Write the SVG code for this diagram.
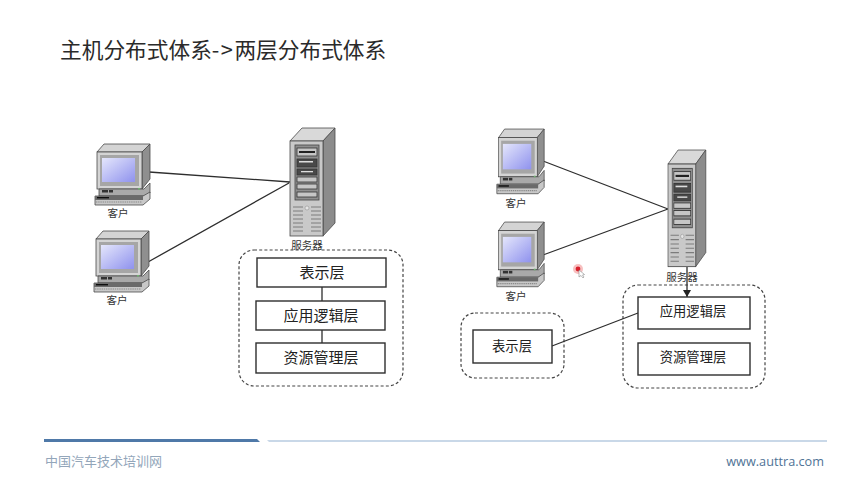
<svg xmlns="http://www.w3.org/2000/svg" xmlns:xlink="http://www.w3.org/1999/xlink" width="864" height="486" viewBox="0 0 864 486">
<style>
text{font-family:"Noto Sans CJK SC","Liberation Sans",sans-serif;fill:#222;text-anchor:middle}
.title{font-size:21.7px;text-anchor:start;fill:#2a2a2a}
.cap{font-size:10.5px;fill:#333}
.l1{font-size:15px}.l2{font-size:13.3px}
.box{fill:#fff;stroke:#2e2e2e;stroke-width:1.4}
.dash{fill:#fff;stroke:#444;stroke-width:1.2;stroke-dasharray:3 2.2}
.conn{fill:none;stroke:#2e2e2e;stroke-width:1.3}
.ol{stroke:#4a4a4a;stroke-width:.8}
.vent{stroke:#7c7c7c;stroke-width:1;fill:none}
.bay{fill:#c6c6c6;stroke:#333;stroke-width:.8}
.bayd{fill:#4a4a4a;stroke:#333;stroke-width:.8}
</style>
<defs>
<filter id="soft" x="-5%" y="-5%" width="110%" height="110%"><feGaussianBlur stdDeviation="0.4"/></filter>
<linearGradient id="scr" x1="0" y1="0" x2="1" y2="1"><stop offset="0" stop-color="#e4e6fb"/><stop offset="1" stop-color="#8f92ee"/></linearGradient>
<marker id="arr" markerUnits="userSpaceOnUse" markerWidth="8" markerHeight="8" refX="7" refY="4" orient="auto"><path d="M0 0L7 4L0 8Z" fill="#222"/></marker>
<g id="pc" filter="url(#soft)">
<path class="ol" d="M3 9L10 1H56L48 9Z" fill="#d4d4d4"/>
<path class="ol" d="M48 9L56 1V36L48 46Z" fill="#8f8f8f"/>
<rect class="ol" x="3" y="9" width="45" height="37" fill="#d4d4d4"/>
<rect x="6" y="12" width="39" height="31" fill="#a6a6a6"/>
<rect x="8" y="15" width="33" height="24" fill="url(#scr)"/>
<path class="ol" d="M5 46H50L56 40V50L50 53H5Z" fill="#a9a9a9"/>
<rect x="8" y="47" width="6" height="2.5" fill="#333"/><rect x="15" y="47" width="4" height="2.5" fill="#333"/>
<rect x="44" y="45" width="2" height="1.5" fill="#6fb26f"/>
<path class="ol" d="M1 53H49L56 49V56L49 62H1Z" fill="#c8c8c8"/>
<rect x="1" y="53" width="48" height="4" fill="#6a6a6a"/>
<rect x="3" y="54" width="12" height="1.4" fill="#111"/>
<path d="M2 59H48" stroke="#8a8a8a" stroke-width="1.2" stroke-dasharray="1.4 .8"/>
</g>
<g id="srv" filter="url(#soft)">
<path class="ol" d="M0 13L12 0H45L33 13Z" fill="#d9d9d9"/>
<path class="ol" d="M33 13L45 0V95L33 108Z" fill="#8c8c8c"/>
<rect class="ol" x="0" y="13" width="33" height="95" fill="#c9c9c9"/>
<rect x="5" y="17" width="24" height="55" fill="#8f8f8f" stroke="#444" stroke-width=".8"/>
<rect class="bay" x="7" y="20" width="20" height="8"/><rect x="9" y="23" width="16" height="2" fill="#222"/>
<rect class="bayd" x="7" y="31" width="20" height="8"/><rect x="9" y="33" width="14" height="1.5" fill="#ddd"/>
<rect class="bayd" x="7" y="41" width="20" height="6"/><rect x="11" y="43" width="12" height="1.3" fill="#ddd"/>
<rect class="bay" x="7" y="49" width="20" height="5"/>
<rect class="bay" x="7" y="56" width="20" height="5"/>
<rect class="bay" x="7" y="64" width="20" height="5"/>
<path class="vent" d="M3 79H13M3 83H13M3 87H13M3 91H13M3 95H13M3 99H13M3 103H13M21 79H31M21 83H31M21 87H31M21 91H31M21 95H31M21 99H31M21 103H31"/>
<circle cx="17" cy="80" r="2" fill="#e4e4e4" stroke="#888" stroke-width=".5"/>
</g>
</defs>
<rect width="864" height="486" fill="#fff"/>
<text class="title" x="60" y="58">主机分布式体系<tspan letter-spacing="1.5">-&gt;</tspan>两层分布式体系</text>

<g id="zone-left"><rect class="dash" x="239" y="250" width="164" height="136" rx="15"/></g>
<g id="zone-right-client"><rect class="dash" x="461" y="313" width="103" height="65" rx="14"/></g>
<g id="zone-right-server"><rect class="dash" x="623" y="285" width="142" height="103" rx="15"/></g>

<g id="connectors">
<path class="conn" d="M149 172L290 182M148 262L289 183M322 287V301M322 330V343"/>
<path class="conn" d="M543 161L668 209M543 255L668 209M552 346L638 313"/>
<path class="conn" d="M687 267V297" marker-end="url(#arr)"/>
</g>

<g id="client-a"><use xlink:href="#pc" href="#pc" transform="translate(94 143)"/><text class="cap" x="118" y="217">客户</text></g>
<g id="client-b"><use xlink:href="#pc" href="#pc" transform="translate(93 230)"/><text class="cap" x="117" y="304">客户</text></g>
<g id="server-a"><use xlink:href="#srv" href="#srv" transform="translate(290 128)"/><text class="cap" x="307" y="249">服务器</text></g>
<g id="client-c"><use xlink:href="#pc" href="#pc" transform="translate(496 128) scale(.86 1.06)"/><text class="cap" x="516" y="207">客户</text></g>
<g id="client-d"><use xlink:href="#pc" href="#pc" transform="translate(496 221) scale(.86 1.06)"/><text class="cap" x="516" y="300">客户</text></g>
<g id="server-b"><use xlink:href="#srv" href="#srv" transform="translate(668 150) scale(.84 1.08)"/><text class="cap" x="682" y="281">服务器</text></g>

<g id="l-present"><rect class="box" x="257" y="258" width="129" height="29"/><text class="l1" x="322" y="278">表示层</text></g>
<g id="l-logic"><rect class="box" x="256" y="301" width="129" height="29"/><text class="l1" x="321" y="321">应用逻辑层</text></g>
<g id="l-res"><rect class="box" x="256" y="343" width="129" height="30"/><text class="l1" x="321" y="363">资源管理层</text></g>
<g id="r-present"><rect class="box" x="473" y="330" width="79" height="33"/><text class="l2" x="512" y="351">表示层</text></g>
<g id="r-logic"><rect class="box" x="638" y="297" width="112" height="32"/><text class="l2" x="693" y="316">应用逻辑层</text></g>
<g id="r-res"><rect class="box" x="638" y="343" width="112" height="32"/><text class="l2" x="693" y="362">资源管理层</text></g>

<circle cx="578" cy="269" r="5" fill="#f3a5a5" opacity=".7"/>
<circle cx="578" cy="269" r="2.4" fill="#d8202c"/>
<path d="M579 270L579 277L581 275.500L583 278L584 277L582.500 275L584.500 274.500Z" fill="#fff" stroke="#888" stroke-width=".6"/>

<path d="M44 439H257L260 442H44Z" fill="#4f79a8"/>
<path d="M267 440H827V442H269Z" fill="#c9d8e8"/>
<text x="45" y="466" style="font-size:13px;text-anchor:start;fill:#93a6ba">中国汽车技术培训网</text>
<text x="824" y="466" style="font-family:'Open Sans','Liberation Sans',sans-serif;font-size:12.7px;text-anchor:end;fill:#4f7396">www.auttra.com</text>
</svg>
